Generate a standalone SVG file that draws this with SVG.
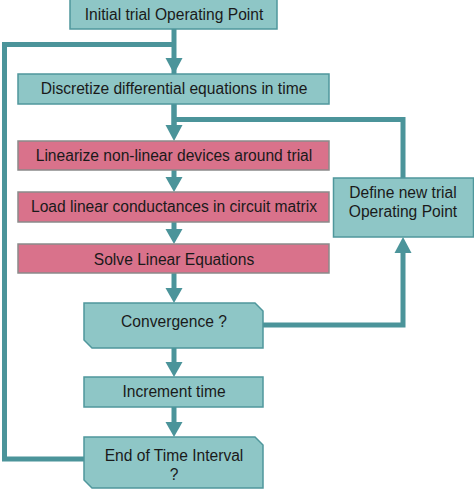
<svg xmlns="http://www.w3.org/2000/svg" width="474" height="493" viewBox="0 0 474 493">
<defs>
<style>
.t{fill:#8ec6c6;stroke:#4f979c;stroke-width:1.5}
.p{fill:#d9728b;stroke:#8a8a8a;stroke-width:1.5}
text{font-family:"Liberation Sans",Arial,sans-serif;font-size:15.6px;fill:#1a1a1a;text-anchor:middle}
.c{fill:none;stroke:#4b949a;stroke-width:5}
.h{fill:#4b949a}
</style>
</defs>
<rect width="474" height="493" fill="#ffffff"/>
<g id="connectors">
<path class="c" d="M174,29 V126"/>
<path class="c" d="M84,459 H4.5 V44.5 H174"/>
<path class="c" d="M174,104 V126"/>
<path class="c" d="M174,119.5 H403 V178"/>
<path class="c" d="M174,170 V178"/>
<path class="c" d="M174,222 V230"/>
<path class="c" d="M174,273 V289"/>
<path class="c" d="M263,325 H403 V252"/>
<path class="c" d="M174,348 V363"/>
<path class="c" d="M174,407 V423"/>
<polygon class="h" points="165.5,58 182.5,58 174,74"/>
<polygon class="h" points="165.5,125 182.5,125 174,141"/>
<polygon class="h" points="165.5,177 182.5,177 174,192"/>
<polygon class="h" points="165.5,229 182.5,229 174,244"/>
<polygon class="h" points="165.5,288 182.5,288 174,303"/>
<polygon class="h" points="165.5,362 182.5,362 174,377"/>
<polygon class="h" points="165.5,422 182.5,422 174,437"/>
<polygon class="h" points="394.5,253 411.5,253 403,237"/>
</g>
<g id="initial"><rect class="t" x="70" y="-2" width="207" height="31"/><text x="174" y="19.5">Initial trial Operating Point</text></g>
<g id="discretize"><rect class="t" x="18" y="74" width="311" height="30"/><text x="174" y="94">Discretize differential equations in time</text></g>
<g id="linearize"><rect class="p" x="18" y="141" width="311" height="29"/><text x="174" y="160.5">Linearize non-linear devices around trial</text></g>
<g id="load"><rect class="p" x="18" y="192" width="311" height="30"/><text x="174" y="212">Load linear conductances in circuit matrix</text></g>
<g id="solve"><rect class="p" x="18" y="244" width="311" height="29"/><text x="174" y="264.5">Solve Linear Equations</text></g>
<g id="convergence"><path class="t" d="M84,303 H255 L263,311 V348 H92 L84,340 Z"/><text x="174" y="327">Convergence ?</text></g>
<g id="define"><rect class="t" x="333.5" y="178" width="140" height="59"/><text x="403" y="198">Define new trial</text><text x="403" y="216.5">Operating Point</text></g>
<g id="increment"><rect class="t" x="84" y="377" width="179" height="30"/><text x="174" y="397">Increment time</text></g>
<g id="end"><path class="t" d="M84,437 H255 L263,445 V488 H92 L84,480 Z"/><text x="174" y="461">End of Time Interval</text><text x="174" y="480">?</text></g>
</svg>
